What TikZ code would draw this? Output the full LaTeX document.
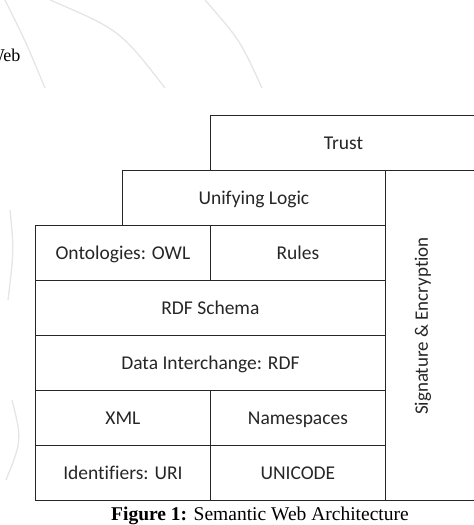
\documentclass[tikz,border=0pt]{standalone}
\usepackage{fontspec}
\setmainfont{Liberation Serif}
\newfontfamily\cellfont[Ligatures=NoCommon]{Carlito}
\usetikzlibrary{positioning}

\tikzset{
  layer/.style={draw=black!85, line width=0.8pt, anchor=north west, inner sep=0pt,
    minimum height=55pt, text height=15pt, text depth=2.4pt,
    font=\cellfont\fontsize{19.5}{22}\selectfont, text=black!85},
  seal/.style={draw=black!10, line width=1.3pt}
}

\begin{document}
\begin{tikzpicture}[x=1pt, y=-1pt]
				\useasboundingbox (0,0) rectangle (474,525);

				% faint seal in the background
				\draw[seal] (5,0) .. controls (25,40) .. (45,88);
				\draw[seal] (50,0) .. controls (120,30) .. (165,88);
				\draw[seal] (205,0) .. controls (240,40) .. (262,88);
				\draw[seal] (10,210) .. controls (14,250) .. (8,300);
				\draw[seal] (12,400) .. controls (22,440) .. (6,480);

				\node[anchor=base east, font=\fontsize{18}{21}\selectfont] (web) at (24,61) {Web};

				\node[layer, minimum width=266pt] (trust) at (210,115) {Trust};
				\node[layer, minimum width=263pt] (logic) at (122,170) {Unifying Logic};
				\node[layer, minimum width=175pt] (owl) at (35,225) {Ontologies: OWL};
				\node[layer, minimum width=175pt] (rules) at (210,225) {Rules};
				\node[layer, minimum width=350pt] (rdfs) at (35,280) {RDF Schema};
				\node[layer, minimum width=350pt] (rdf) at (35,335) {Data Interchange: RDF};
				\node[layer, minimum width=175pt] (xml) at (35,390) {XML};
				\node[layer, minimum width=175pt] (ns) at (210,390) {Namespaces};
				\node[layer, minimum width=175pt] (uri) at (35,445) {Identifiers: URI};
				\node[layer, minimum width=175pt] (unicode) at (210,445) {UNICODE};
				\node[layer, minimum width=91pt, minimum height=330pt] (sig) at (385,170) {};
				\node[rotate=90, font=\cellfont\fontsize{19}{22}\selectfont, text=black!85] (sigtext) at (423,326) {Signature \& Encryption};

				\node[font=\fontsize{19.5}{22}\selectfont] (caption) at (260,516) {\textbf{Figure 1:} Semantic Web Architecture};
			\end{tikzpicture}
\end{document}
